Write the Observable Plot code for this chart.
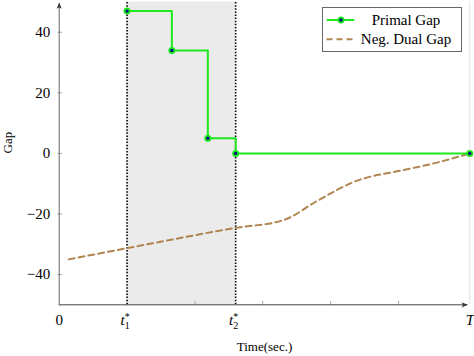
<!DOCTYPE html>
<html><head><meta charset="utf-8">
<script src="https://cdn.jsdelivr.net/npm/d3@7"></script>
<script src="https://cdn.jsdelivr.net/npm/@observablehq/plot@0.6"></script>
<style>
html,body{margin:0;padding:0;background:#fff;}
#wrap{position:relative;width:474px;height:356px;font-family:"Liberation Serif","Times New Roman",serif;}
#legend{position:absolute;left:322px;top:7px;}
</style></head><body><div id="wrap"></div>
<script>
// ---- data ----
const t1 = 1.0, t2 = 2.6, T = 6.05;
const xDomain = [0, T];
const yDomain = [-50, 50];
const yTicks = [-40, -20, 0, 20, 40];
const xMinorTicks = [2, 3, 4, 5];
const xTickValues = [0, t1, t2, T];
const xTickLabels = ["0", "t1*", "t2*", "T"];
const shadeStart = [t1];
const shadeEnd = [t2];
const primalX = [1.0, 1.66, 2.19, 2.6, 6.05];
const primalY = [47, 34, 5, 0, 0];
const dualX = [0.14, 1.0, 2.6, 3.31, 3.8, 4.39, 5.03, 5.52, 6.05];
const dualY = [-35, -31.3, -24.6, -22, -15.7, -9, -5.7, -3.3, 0];
const seriesNames = ["Primal Gap", "Neg. Dual Gap"];
const axisLabels = {x: "Time(sec.)", y: "Gap"};

const primalColor = "#1ee81e", primalFill = "#000a8c";
const dualColor = "#b08550";
const xAxisColor = "#454545", yAxisColor = "#676767";

const primal = primalX.map((x, i) => ({x, y: primalY[i]}));
const dual = dualX.map((x, i) => ({x, y: dualY[i]}));
const shade = shadeStart.map((s, i) => ({x1: s, x2: shadeEnd[i]}));
const tickLenX = 0.05;   // inward tick length in x units
const tickLenY = 1.15;   // inward tick length in y units

const plot = Plot.plot({
  width: 474, height: 356,
  marginLeft: 58.7, marginRight: 4.7, marginTop: 1.5, marginBottom: 51.7,
  x: {domain: xDomain},
  y: {domain: yDomain},
  style: {fontFamily: "'Liberation Serif', 'Times New Roman', serif", fontSize: "15px", background: "white", color: "#000", overflow: "visible"},
  marks: [
    Plot.rect(shade, {x1: "x1", x2: "x2", y1: yDomain[0], y2: yDomain[1], fill: "#ebebeb"}),
    Plot.ruleX([T], {y1: yDomain[0], y2: yDomain[1], stroke: "#e0e0e0"}),
    Plot.ruleX([t1, t2], {y1: yDomain[0], y2: yDomain[1], stroke: "#000", strokeWidth: 1.6, strokeDasharray: "1.5,1.6"}),
    Plot.ruleY(yTicks, {x1: xDomain[0] - tickLenX * 0.4, x2: xDomain[0] + tickLenX, stroke: "#aaa"}),
    Plot.ruleX(xMinorTicks, {y1: yDomain[0], y2: yDomain[0] + tickLenY, stroke: "#aaa"}),
    Plot.axisY(yTicks, {tickSize: 0, tickPadding: 9, fontSize: 15, label: null}),
    Plot.axisX(xTickValues, {tickSize: 0, tickPadding: 10, fontSize: 15, label: null,
      tickFormat: d => xTickLabels[xTickValues.indexOf(d)]}),
    Plot.line([[xDomain[0], yDomain[0]], [xDomain[1] - 0.04, yDomain[0]]], {stroke: xAxisColor, strokeWidth: 1}),
    Plot.line([[xDomain[0], yDomain[0]], [xDomain[0], yDomain[1] - 0.4]], {stroke: yAxisColor, strokeWidth: 1}),
    Plot.line(dual, {x: "x", y: "y", curve: "monotone-x", stroke: dualColor, strokeWidth: 2, strokeDasharray: "6,4"}),
    Plot.line(primal, {x: "x", y: "y", curve: "step-after", stroke: primalColor, strokeWidth: 2}),
    Plot.dot(primal, {x: "x", y: "y", r: 2.6, fill: primalFill, stroke: primalColor, strokeWidth: 1.8}),
    Plot.text([axisLabels.x], {frameAnchor: "bottom", lineAnchor: "middle", dy: 42.5, fontSize: 13}),
    Plot.text([axisLabels.y], {frameAnchor: "left", lineAnchor: "middle", dx: -51, rotate: -90, fontSize: 13})
  ]
});

const NS = "http://www.w3.org/2000/svg";
// filled arrow heads on the axis lines
const defs = d3.select(plot).insert("defs", ":first-child");
defs.append("marker").attr("id", "axarrow").attr("viewBox", "-6 -3 7 6")
  .attr("markerWidth", 7).attr("markerHeight", 6).attr("refX", 0).attr("refY", 0)
  .attr("orient", "auto").attr("markerUnits", "userSpaceOnUse")
  .append("path").attr("d", "M-5.5,-2.6 L0.5,0 L-5.5,2.6 L-4,0 Z").attr("fill", "#333");
d3.select(plot).selectAll(`g[stroke="${xAxisColor}"] path, g[stroke="${yAxisColor}"] path`)
  .attr("marker-end", "url(#axarrow)");

// format special tick labels: italic t with sub/superscripts
d3.select(plot).selectAll('g[aria-label="x-axis tick label"] text').each(function() {
  const s = this.textContent;
  const m = /^t(\d)\*$/.exec(s);
  if (m) {
    this.textContent = "";
    const a = document.createElementNS(NS, "tspan");
    a.setAttribute("font-style", "italic"); a.setAttribute("dx", "-2"); a.textContent = "t";
    const b = document.createElementNS(NS, "tspan");
    b.setAttribute("font-size", "10"); b.setAttribute("dy", "4"); b.textContent = m[1];
    const c = document.createElementNS(NS, "tspan");
    c.setAttribute("font-size", "10"); c.setAttribute("dx", "-5"); c.setAttribute("dy", "-9.5"); c.textContent = "*";
    this.append(a, b, c);
  } else if (s === "T") {
    this.setAttribute("font-style", "italic");
  }
});

const wrap = document.getElementById("wrap");
wrap.appendChild(plot);

// legend
const leg = d3.select(wrap).append("svg").attr("id", "legend").attr("width", 141).attr("height", 46)
  .style("font-family", "'Liberation Serif', 'Times New Roman', serif");
leg.append("rect").attr("x", 0.5).attr("y", 0.5).attr("width", 139).attr("height", 44)
  .attr("fill", "#fff").attr("stroke", "#666");
leg.append("line").attr("x1", 4.7).attr("x2", 32.3).attr("y1", 13).attr("y2", 13)
  .attr("stroke", primalColor).attr("stroke-width", 2);
leg.append("circle").attr("cx", 19).attr("cy", 13).attr("r", 2.6)
  .attr("fill", primalFill).attr("stroke", primalColor).attr("stroke-width", 1.8);
leg.append("line").attr("x1", 4.5).attr("x2", 32.5).attr("y1", 32.3).attr("y2", 32.3)
  .attr("stroke", dualColor).attr("stroke-width", 2).attr("stroke-dasharray", "6,4");
leg.append("text").attr("x", 84).attr("y", 17.5).attr("text-anchor", "middle").attr("font-size", 15).text(seriesNames[0]);
leg.append("text").attr("x", 84).attr("y", 36.5).attr("text-anchor", "middle").attr("font-size", 15).text(seriesNames[1]);
</script></body></html>
